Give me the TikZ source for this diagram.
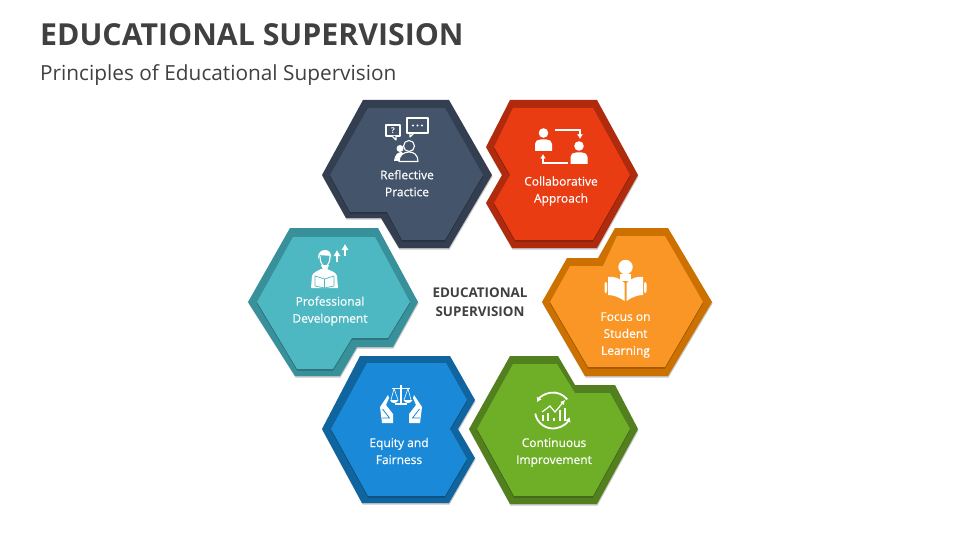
\documentclass[tikz,border=0pt]{standalone}
\usepackage{fontspec}
\setmainfont{Open Sans}
\newfontfamily\labelfont[FakeBold=0.35]{Open Sans}
\usetikzlibrary{shadows,arrows.meta,calc}
\definecolor{titlegray}{HTML}{404040}
\definecolor{slatedark}{HTML}{333F50}
\definecolor{slatemain}{HTML}{44546A}
\definecolor{reddark}{HTML}{B02A0E}
\definecolor{redmain}{HTML}{E93C13}
\definecolor{tealdark}{HTML}{38909A}
\definecolor{tealmain}{HTML}{4DB8C2}
\definecolor{orangedark}{HTML}{CC7000}
\definecolor{orangemain}{HTML}{F99625}
\definecolor{bluedark}{HTML}{10659F}
\definecolor{bluemain}{HTML}{1A8AD8}
\definecolor{greendark}{HTML}{53801F}
\definecolor{greenmain}{HTML}{6FAF28}
\begin{document}
\begin{tikzpicture}[x=1pt,y=-1pt]
	\tikzset{>=latex}
	\tikzset{hexback/.style={drop shadow={shadow xshift=0.5pt,shadow yshift=-1.5pt,opacity=0.22,fill=black}}}
	\tikzset{hexfront/.style={drop shadow={shadow xshift=0pt,shadow yshift=-1.5pt,opacity=0.25,fill=black}}}
	\tikzset{hexlabel/.style={text=white,align=center,font=\labelfont\fontsize{12}{17}\selectfont}}
	\tikzset{iconline/.style={draw=white,line width=1.1pt,line join=round}}
	\tikzset{iconarrow/.style={draw=white,line width=1.8pt,-{Latex[length=4.5pt,width=6pt]}}}
	\useasboundingbox (0,0) rectangle (960,540);
	\fill [white] (0,0) rectangle (960,540);
	\node (title) [anchor=west,text=titlegray,font=\fontsize{30.3}{36}\selectfont\bfseries,inner sep=0] at (40,34.8) {EDUCATIONAL SUPERVISION};
	\node (subtitle) [anchor=west,text=titlegray,font=\fontsize{20.8}{24}\selectfont,inner sep=0] at (40,75) {Principles of Educational Supervision};
	% reflective
	\fill [slatedark,hexback] (363,100) -- (449,100) -- (492,175) -- (449,248) -- (399,248) -- (381,218) -- (346,218) -- (322,175) -- cycle;
	\fill [slatemain,hexfront] (368,108) -- (445,108) -- (483,175) -- (445,240) -- (402,240) -- (387,212) -- (350,212) -- (330,175) -- cycle;
	% collaborative
	\fill [reddark,hexback] (510,100) -- (597,100) -- (638,175) -- (597,248) -- (512,248) -- (486,203) -- (502,175) -- (486,147) -- cycle;
	\fill [redmain,hexfront] (513,108) -- (593,108) -- (630,175) -- (593,240) -- (515,240) -- (494,203) -- (510,175) -- (494,147) -- cycle;
	% professional
	\fill [tealdark,hexback] (290,228) -- (378,228) -- (418,302) -- (393,347) -- (357,347) -- (340,376) -- (295,376) -- (248,302) -- cycle;
	\fill [tealmain,hexfront] (293,237) -- (375,237) -- (410,302) -- (388,338) -- (352,338) -- (333,369) -- (297,369) -- (257,302) -- cycle;
	% focus
	\fill [orangedark,hexback] (615,228) -- (668,228) -- (712,302) -- (668,376) -- (585,376) -- (542,302) -- (567,258) -- (598,258) -- cycle;
	\fill [orangemain,hexfront] (617,236) -- (665,236) -- (703,302) -- (665,367) -- (588,367) -- (550,302) -- (570,266) -- (603,266) -- cycle;
	% equity
	\fill [bluedark,hexback] (360,356) -- (450,356) -- (475,400) -- (458,429) -- (475,458) -- (449,503) -- (362,503) -- (322,429) -- cycle;
	\fill [bluemain,hexfront] (367,363) -- (446,363) -- (467,400) -- (450,429) -- (467,459) -- (445,496) -- (368,496) -- (331,429) -- cycle;
	% continuous
	\fill [greendark,hexback] (510,356) -- (558,356) -- (575,385) -- (615,385) -- (638,429) -- (597,504) -- (510,504) -- (469,429) -- cycle;
	\fill [greenmain,hexfront] (513,364) -- (557,364) -- (575,393) -- (610,393) -- (630,429) -- (593,496) -- (514,496) -- (477,429) -- cycle;
	% labels
	\node (centre) [hexlabel,text=titlegray,font=\fontsize{13.4}{19}\selectfont\bfseries] at (480,302) {EDUCATIONAL\\SUPERVISION};
	\node (reflective) [hexlabel] at (407,183.2) {Reflective\\Practice};
	\node (collaborative) [hexlabel] at (561,191) {Collaborative\\Approach};
	\node (professional) [hexlabel] at (330,311) {Professional\\Development};
	\node (focus) [hexlabel] at (625.5,335) {Focus on\\Student\\Learning};
	\node (equity) [hexlabel] at (399,451) {Equity and\\Fairness};
	\node (continuous) [hexlabel] at (554,452.5) {Continuous\\Improvement};
	% icon reflective
	\draw [iconline,fill=slatemain] (386,125) rectangle (400,136);
	\draw [iconline,fill=slatemain] (392,136) -- (396,140) -- (396,136);
	\node (question) [text=white,inner sep=0,font=\fontsize{8}{8}\selectfont\bfseries] at (393,130.5) {?};
	\draw [iconline,fill=slatemain] (407,118) rectangle (428,133);
	\draw [iconline] (410,133) -- (410,137) -- (414,133);
	\foreach \dotx in {413,417.5,422}
		\fill [white] (\dotx,125.5) circle (1.2);
	\fill [white] (400,148.5) circle (3.5);
	\fill [white] (394,161) .. controls (395,154) and (398,152) .. (402,152) -- (406,161) -- cycle;
	\draw [iconline,fill=slatemain] (409,146) circle (5.5);
	\draw [iconline,fill=slatemain] (399,161.5) .. controls (399,155) and (404,152) .. (409,152) .. controls (414,152) and (418,155) .. (418,161.5) -- cycle;
	% icon collaborative
	\foreach \bodyx/\bodyy in {543.5/133,579/146}
	{
		\fill [white] (\bodyx,\bodyy) circle (4.8);
		\fill [white] (\bodyx-8.5,\bodyy+18) -- (\bodyx-8.5,\bodyy+11) .. controls (\bodyx-8.5,\bodyy+8) and (\bodyx-6,\bodyy+6.5) .. (\bodyx-3,\bodyy+6.5) -- (\bodyx+3,\bodyy+6.5) .. controls (\bodyx+6,\bodyy+6.5) and (\bodyx+8.5,\bodyy+8) .. (\bodyx+8.5,\bodyy+11) -- (\bodyx+8.5,\bodyy+18) -- cycle;
	}
	\draw [iconarrow] (555,130) -- (580,130) -- (580,139);
	\draw [iconarrow] (568,163) -- (543,163) -- (543,154);
	% icon professional
	\fill [white] (311,288) -- (312,276) .. controls (313,272) and (318,271) .. (321,269) -- (327,269) .. controls (331,271) and (336,272) .. (337,276) -- (338,288) -- cycle;
	\draw [tealmain,line width=0.7pt,line join=round] (315,276) -- (324.5,279) -- (334,276) -- (334,286) -- (324.5,288) -- (315,286) -- cycle;
	\draw [tealmain,line width=0.7pt] (324.5,279) -- (324.5,288);
	\fill [white] (318.5,259) .. controls (317,252) and (322,250) .. (325,250) .. controls (329,250) and (332,253) .. (331,259) -- (330.5,256) .. controls (327,255) and (323,256) .. (320,255) -- cycle;
	\draw [white,line width=1.1pt] (320,256) .. controls (320,262) and (322,266) .. (325,266) .. controls (328,266) and (330,262) .. (330,256);
	\fill [white] (321,265) -- (329,265) -- (327,270) -- (323,270) -- cycle;
	\draw [iconarrow,line width=2.4pt,-{Latex[length=6pt,width=7.5pt]}] (337,262) -- (337,250);
	\draw [iconarrow,line width=2.4pt,-{Latex[length=6pt,width=7.5pt]}] (345,256) -- (345,244);
	% icon focus
	\fill [white] (625.5,267) circle (7.2);
	\fill [white] (620,274) rectangle (631,281);
	\fill [white] (608,277) .. controls (613,276) and (620,278) .. (624.5,283) -- (624.5,301) .. controls (619,297) and (613,295) .. (608,295) -- cycle;
	\fill [white] (643,277) .. controls (638,276) and (631,278) .. (626.5,283) -- (626.5,301) .. controls (632,297) and (638,295) .. (643,295) -- cycle;
	\fill [white,rounded corners=2pt] (604.5,282) rectangle (607,293);
	\fill [white,rounded corners=2pt] (644,282) rectangle (646.5,293);
	% icon equity
	\draw [white,line width=1pt] (392,388.5) -- (410,388.5);
	\draw [white,line width=1.2pt] (401,385) -- (401,403);
	\draw [white,line width=1.8pt] (395,404) -- (407,404);
	\draw [white,line width=0.6pt] (391,400) -- (394,388.5) -- (398,400);
	\draw [white,line width=0.6pt] (404,400) -- (408,388.5) -- (411,400);
	\fill [white] (390,400) .. controls (391,404) and (397,404) .. (398.5,400) -- cycle;
	\fill [white] (403.5,400) .. controls (405,404) and (411,404) .. (412.5,400) -- cycle;
	\foreach \handdir in {1,-1}
	{
		\fill [white,shift={(401,0)},xscale=\handdir] (-13,395) -- (-21,407) -- (-20,415) -- (-19,423) -- (-8,423) -- (-8,414) -- (-15,405) -- (-12,398) -- cycle;
		\draw [bluemain,line width=0.8pt,shift={(401,0)},xscale=\handdir] (-18.5,409) -- (-11.5,418) -- (-19,418);
	}
	% icon continuous
	\coordinate (dial) at (553,410.5);
	\draw [white,line width=1.8pt,-{Latex[length=4.5pt,width=6pt]}] ($(dial)+(322:18)$) arc (322:208:18);
	\draw [white,line width=1.8pt,-{Latex[length=4.5pt,width=6pt]}] ($(dial)+(170:18)$) arc (170:22:18);
	\foreach \barx/\bartop in {543/415,548/413,554/418,560/410,565/408}
		\draw [white,line width=2.4pt] (\barx,421) -- (\barx,\bartop);
	\draw [white,line width=1.2pt,-{Latex[length=4.5pt,width=5pt]}] (542,412) -- (550,406) -- (555,412) -- (565,400);
\end{tikzpicture}
\end{document}
